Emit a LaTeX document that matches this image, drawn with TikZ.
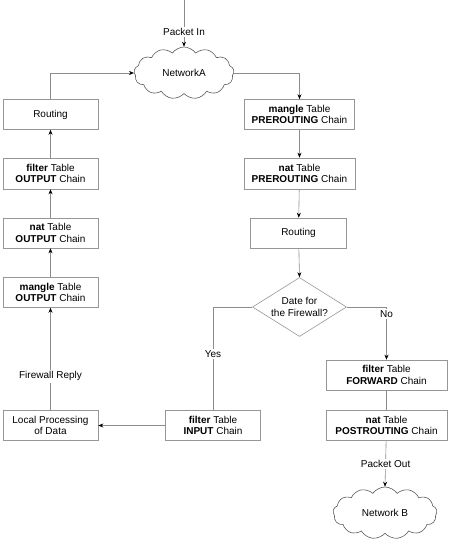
\documentclass[tikz,border=0pt]{standalone}
\usepackage{fontspec}
\setmainfont{Liberation Sans}
\usetikzlibrary{shapes.geometric, shapes.symbols, arrows.meta, positioning}
\definecolor{linegray}{RGB}{140,140,140}
\definecolor{boxgray}{RGB}{150,150,150}
\definecolor{cloudgray}{RGB}{90,90,90}

\tikzset{
  chainbox/.style={draw=boxgray, line width=0.6pt, fill=white, align=center, inner sep=0pt},
  netcloud/.style={cloud, cloud puffs=13, cloud puff arc=110, cloud ignores aspect, draw=cloudgray, line width=0.6pt, inner sep=0pt, minimum width=100pt, minimum height=52pt},
  decision/.style={diamond, draw=boxgray, line width=0.6pt, align=center, inner sep=0pt, minimum width=94pt, minimum height=59pt, aspect=1.6},
  flow/.style={draw=linegray, line width=0.6pt, -{Stealth[length=5pt, width=4pt, black]}},
  plain/.style={draw=linegray, line width=0.6pt},
  lbl/.style={fill=white, inner sep=1.5pt}
}

\begin{document}
\begin{tikzpicture}[x=1pt, y=-1pt, font=\fontsize{10}{11.5}\selectfont]
        \useasboundingbox (0,0) rectangle (450,540);

        % Incoming side
        \coordinate (pin) at (184,0);
        \node[netcloud] (netA) at (184,73) {NetworkA};

        % Left column (output path)
        \node[chainbox, minimum width=95pt, minimum height=30pt] (routeL) at (50.5,114.5) {Routing};
        \node[chainbox, minimum width=95pt, minimum height=31pt] (filtOut) at (50.5,173.5) {\textbf{filter} Table\\\textbf{OUTPUT} Chain};
        \node[chainbox, minimum width=95pt, minimum height=30pt] (natOut) at (50.5,233) {\textbf{nat} Table\\\textbf{OUTPUT} Chain};
        \node[chainbox, minimum width=95pt, minimum height=30pt] (mangOut) at (50.5,292.5) {\textbf{mangle} Table\\\textbf{OUTPUT} Chain};
        \node[chainbox, minimum width=95pt, minimum height=30pt] (local) at (50.5,425.5) {Local Processing\\of Data};

        % Right column (prerouting path)
        \node[chainbox, minimum width=110pt, minimum height=30pt] (mangPre) at (299.5,114.5) {\textbf{mangle} Table\\\textbf{PREROUTING} Chain};
        \node[chainbox, minimum width=111pt, minimum height=31pt] (natPre) at (299.5,173.5) {\textbf{nat} Table\\\textbf{PREROUTING} Chain};
        \node[chainbox, minimum width=96pt, minimum height=30pt] (routeR) at (298.5,233) {Routing};
        \node[decision] (dec) at (299.5,307) {Date for\\the Firewall?};

        % Input and forward chains
        \node[chainbox, minimum width=95pt, minimum height=30pt] (filtIn) at (213,425.5) {\textbf{filter} Table\\\textbf{INPUT} Chain};
        \node[chainbox, minimum width=121pt, minimum height=30pt] (filtFwd) at (386.5,375) {\textbf{filter} Table\\\textbf{FORWARD} Chain};
        \node[chainbox, minimum width=121pt, minimum height=30pt] (natPost) at (386.5,425.5) {\textbf{nat} Table\\\textbf{POSTROUTING} Chain};
        \node[netcloud, minimum width=104pt] (netB) at (385,513) {Network B};

        % Connectors
        \draw[flow] (pin) -- node[lbl, pos=0.69] {Packet In} (netA.north);
        \draw[flow] (netA.east) -| (mangPre.north);
        \draw[flow] (mangPre) -- (natPre);
        \draw[flow] (natPre) -- (routeR);
        \draw[flow] (routeR) -- (dec.north);
        \draw[plain] (dec.west) -| node[lbl, pos=0.73] {Yes} (filtIn.north);
        \draw[flow] (dec.east) -| node[lbl, pos=0.57] {No} (filtFwd.north);
        \draw[plain] (filtFwd) -- (natPost);
        \draw[flow] (natPost) -- node[lbl, pos=0.5] {Packet Out} (netB.north);
        \draw[flow] (filtIn) -- (local);
        \draw[flow] (local) -- node[lbl, pos=0.33] {Firewall Reply} (mangOut);
        \draw[flow] (mangOut) -- (natOut);
        \draw[flow] (natOut) -- (filtOut);
        \draw[flow] (filtOut) -- (routeL);
        \draw[flow] (routeL.north) |- (netA.west);
\end{tikzpicture}
\end{document}
